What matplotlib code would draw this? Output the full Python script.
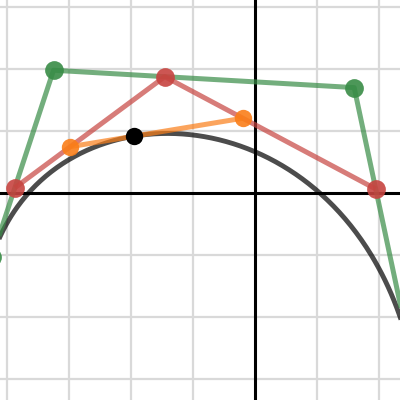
import matplotlib
matplotlib.use("Agg")
import matplotlib.pyplot as plt
import numpy as np

# control points of the cubic Bezier (grid unit = 1)
ctrl_x = [-4.24, -3.25, 1.60, 2.54]
ctrl_y = [-1.03, 1.98, 1.70, -2.72]
t_val = 0.37

xlim = (-4.113, 2.339)
ylim = (-3.339, 3.113)
grid_x = [-4, -3, -2, -1, 1, 2]
grid_y = [-3, -2, -1, 1, 2, 3]

GREEN, RED, ORANGE = "#388c46", "#c74440", "#fa7e19"

def lerp(pts, t):
    return [(a[0] + t*(b[0]-a[0]), a[1] + t*(b[1]-a[1])) for a, b in zip(pts[:-1], pts[1:])]

P = list(zip(ctrl_x, ctrl_y))
Q = lerp(P, t_val)
R = lerp(Q, t_val)
B = lerp(R, t_val)

ts = np.linspace(0, 1, 300)
P_ = np.array(P)
curve = ((1-ts)**3)[:, None]*P_[0] + (3*(1-ts)**2*ts)[:, None]*P_[1] \
    + (3*(1-ts)*ts**2)[:, None]*P_[2] + (ts**3)[:, None]*P_[3]

fig = plt.figure(figsize=(4, 4), dpi=100)
ax = fig.add_axes([0, 0, 1, 1])
ax.set_xlim(*xlim); ax.set_ylim(*ylim)
ax.axis("off")

for gx in grid_x:
    ax.axvline(gx, color="#d9d9d9", lw=1.6, zorder=0)
for gy in grid_y:
    ax.axhline(gy, color="#d9d9d9", lw=1.6, zorder=0)
ax.axvline(0, color="black", lw=2.2, zorder=1)
ax.axhline(0, color="black", lw=2.2, zorder=1)

ax.plot(curve[:, 0], curve[:, 1], color="#000000", alpha=0.7, lw=3.5, zorder=2, solid_capstyle="butt")

def poly(pts, color, ms, z):
    xs, ys = zip(*pts)
    ax.plot(xs, ys, color=color, alpha=0.7, lw=3.6, zorder=z, solid_capstyle="butt")
    ax.plot(xs, ys, "o", color=color, ms=ms, alpha=0.9, mec="none", zorder=z+0.5)

poly(P, GREEN, 13.5, 3)
poly(Q, RED, 13.5, 4)
poly(R, ORANGE, 12.5, 5)
ax.plot([B[0][0]], [B[0][1]], "o", color="black", ms=12.5, mec="none", zorder=7)

fig.savefig("out.png", dpi=100)
